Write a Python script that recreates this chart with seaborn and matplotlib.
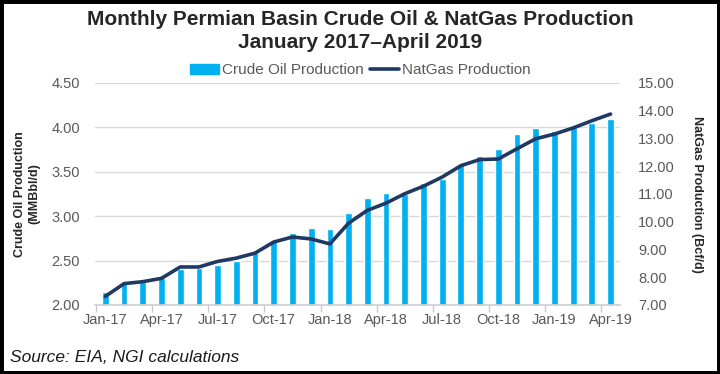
import numpy as np
import pandas as pd
import seaborn as sns
import matplotlib.pyplot as plt
from matplotlib.patches import Rectangle
from matplotlib.lines import Line2D
from matplotlib.patches import Patch

sns.set_theme(style="white")
plt.rcParams['font.family'] = ['Liberation Sans', 'DejaVu Sans']

# monthly values Jan-17 .. Apr-19
months = ['Jan-17', 'Feb-17', 'Mar-17', 'Apr-17', 'May-17', 'Jun-17', 'Jul-17', 'Aug-17',
          'Sep-17', 'Oct-17', 'Nov-17', 'Dec-17', 'Jan-18', 'Feb-18', 'Mar-18', 'Apr-18',
          'May-18', 'Jun-18', 'Jul-18', 'Aug-18', 'Sep-18', 'Oct-18', 'Nov-18', 'Dec-18',
          'Jan-19', 'Feb-19', 'Mar-19', 'Apr-19']
crude = [2.15, 2.25, 2.26, 2.30, 2.40, 2.42, 2.45, 2.49, 2.60, 2.72, 2.81, 2.87,
         2.86, 3.04, 3.20, 3.26, 3.25, 3.37, 3.42, 3.58, 3.68, 3.76, 3.93, 3.99,
         3.96, 4.01, 4.05, 4.09]
natgas = [7.31, 7.77, 7.84, 7.96, 8.37, 8.37, 8.57, 8.69, 8.87, 9.27, 9.45, 9.38,
          9.20, 9.95, 10.41, 10.67, 11.01, 11.28, 11.61, 12.02, 12.24, 12.26, 12.63, 12.99,
          13.16, 13.38, 13.64, 13.88]

df = pd.DataFrame({'month': months, 'crude': crude, 'natgas': natgas})

bar_col = '#00B0F0'
line_col = '#1F3864'
tick_col = '#595959'
fs = 10.5

fig = plt.figure(figsize=(7.2, 3.74), dpi=100)
ax = fig.add_axes([0.132, 0.1845, 0.729, 0.5936])
ax2 = ax.twinx()

sns.barplot(data=df, x='month', y='crude', color=bar_col, width=0.36,
            saturation=1, ax=ax, zorder=2)
sns.lineplot(x=np.arange(len(months)), y=df['natgas'], color=line_col,
             linewidth=2.6, ax=ax2)

ax.set_xlim(-0.55, len(months) - 0.5)
ax.set_ylim(2.0, 4.5)
ax.set_yticks(np.arange(2.0, 4.51, 0.5))
ax.set_yticklabels([f'{v:.2f}' for v in np.arange(2.0, 4.51, 0.5)])
ax2.set_ylim(7, 15)
ax2.set_yticks(np.arange(7, 15.1, 1))
ax2.set_yticklabels([f'{v:.2f}' for v in np.arange(7, 15.1, 1)])

ax.grid(axis='y', color='#D9D9D9', linewidth=1, zorder=0)
ax.set_axisbelow(True)
for s in ['top', 'right', 'left']:
    ax.spines[s].set_visible(False)
    ax2.spines[s].set_visible(False)
ax2.spines['bottom'].set_visible(False)
ax.spines['bottom'].set_color('#D0D0D0')

ax.set_xticks(np.arange(0, len(months), 3))
ax.set_xticklabels(months[::3])
ax.set_xticks(np.arange(-0.5, len(months), 3), minor=True)
ax.tick_params(axis='x', which='major', length=0, pad=6, labelsize=fs, colors=tick_col)
ax.tick_params(axis='x', which='minor', length=5, width=1, color='#C8C8C8', bottom=True)
ax.tick_params(axis='y', length=0, labelsize=fs, colors=tick_col, pad=11)
ax2.tick_params(axis='y', length=0, labelsize=fs, colors=tick_col, pad=13)

ax.set_xlabel('')
ax.set_ylabel('Crude Oil Production\n(MMBbl/d)', fontsize=9, fontweight='bold', labelpad=8)
ax2.set_ylabel('NatGas Production (Bcf/d)', fontsize=9, fontweight='bold', rotation=270,
               labelpad=20)

fig.text(0.5, 0.972, 'Monthly Permian Basin Crude Oil & NatGas Production\nJanuary 2017\u2013April 2019',
         ha='center', va='top', fontsize=15, fontweight='bold', linespacing=1.22)

handles = [Patch(color=bar_col), Line2D([0], [0], color=line_col, linewidth=2.6)]
fig.legend(handles, ['Crude Oil Production', 'NatGas Production'], loc='center',
           bbox_to_anchor=(0.5, 0.812), ncol=2, frameon=False, fontsize=11,
           handlelength=1.9, handleheight=0.6, columnspacing=0.4, handletextpad=0.2,
           labelcolor=tick_col)

fig.text(0.014, 0.045, 'Source: EIA, NGI calculations', fontsize=12.5, style='italic',
         ha='left', va='center', color='#1a1a1a')

fig.patches.append(Rectangle((0, 0), 1, 1, transform=fig.transFigure, fill=False,
                             edgecolor='black', linewidth=5, zorder=10))

fig.savefig('out.png', dpi=100)
